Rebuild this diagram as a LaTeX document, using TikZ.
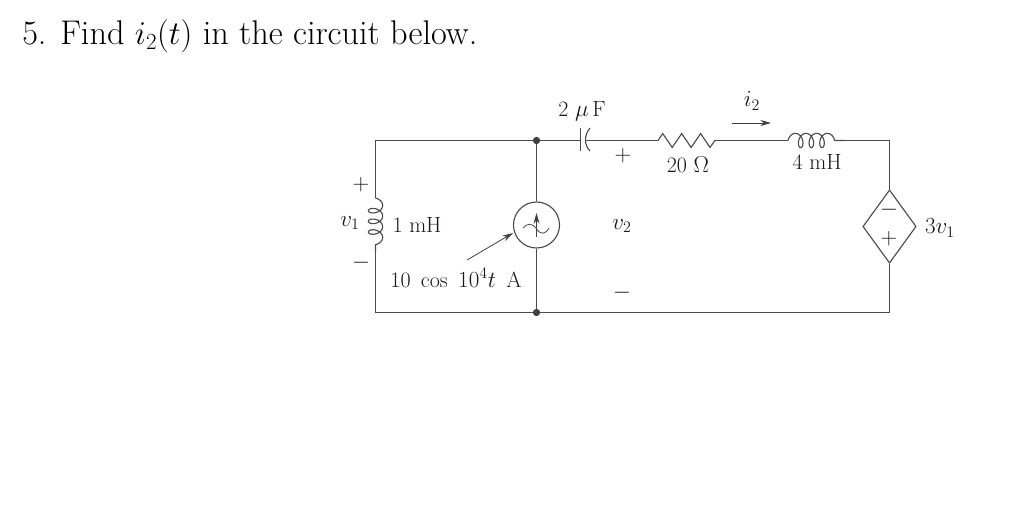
\documentclass[tikz,border=0pt]{standalone}
\usetikzlibrary{arrows.meta,decorations.pathmorphing,shapes.geometric}
\tikzset{
  wire/.style={draw=black!70,line width=0.85pt},
  lbl/.style={inner sep=0pt,text=black!90,font=\fontsize{16.5}{18}\selectfont},
  dot/.style={circle,fill=black!75,inner sep=0pt,minimum size=5.5pt},
  coilv/.style={wire,decorate,decoration={coil,aspect=0.65,amplitude=5.4pt,segment length=8pt}},
  zig/.style={wire,decorate,decoration={zigzag,amplitude=5.2pt,segment length=14.2pt}},
  arrowline/.style={draw=black!75,line width=0.6pt,-{Stealth[length=8pt,width=4.5pt]}}
}
\begin{document}
\begin{tikzpicture}[x=0.75pt,y=-0.75pt]
  \useasboundingbox (0,0) rectangle (1024,504);
  \node [inner sep=0pt,anchor=west,font=\fontsize{25.7}{30}\selectfont] (title) at (22,36)
    {5. Find $i_2(t)$ in the circuit below.};
  % corners and junctions
  \coordinate (tl) at (375.5,140.5);
  \coordinate (bl) at (375.5,312.5);
  \coordinate (tr) at (889.5,140.5);
  \coordinate (br) at (889.5,312.5);
  \node [dot] (jt) at (536.5,140.5) {};
  \node [dot] (jb) at (536.5,312.5) {};
  \coordinate (la) at (375.5,198);
  \coordinate (lb) at (375.5,252);
  \coordinate (ca) at (580.5,140.5);
  \coordinate (cb) at (586,140.5);
  \coordinate (ra) at (658,140.5);
  \coordinate (rb) at (716,140.5);
  \coordinate (ma) at (788,140.5);
  \coordinate (mb) at (844,140.5);
  \node [draw=black!70,line width=0.85pt,circle,minimum size=34.5pt,inner sep=0pt] (src) at (536.5,225) {};
  \node [draw=black!70,line width=0.85pt,diamond,minimum width=40pt,minimum height=55pt,inner sep=0pt] (dep) at (889.5,226.5) {};
  % wires
  \draw [wire] (lb) -- (bl) -- (jb) -- (br) -- (dep.south);
  \draw [wire] (la) -- (tl) -- (jt) -- (ca);
  \draw [wire] (jt) -- (src.north);
  \draw [wire] (src.south) -- (jb);
  \draw [wire] (cb) -- (ra);
  \draw [wire] (rb) -- (ma);
  \draw [wire] (mb) -- (tr) -- (dep.north);
  % elements
  \draw [coilv] (la) -- (lb);
  \draw [zig] (ra) -- (rb);
  \draw [coilv] (ma) -- (mb);
  \draw [wire] (580.5,128) -- (580.5,151);
  \draw [wire] (590,128) .. controls (584,135) and (584,145) .. (590,151);
  % source symbol
  \coordinate (srcup) at (536.5,213);
  \coordinate (srcdn) at (536.5,237);
  \draw [arrowline] (srcdn) -- (srcup);
  \draw [wire,line width=0.6pt] (523,228) .. controls (527,223) and (532,223) .. (536,228)
    .. controls (540,235) and (545,235) .. (549,228);
  % labels
  \node [lbl] (lcap) at (582,111) {2 $\mu$\,F};
  \node [lbl] (lres) at (688,165) {20 $\Omega$};
  \node [lbl] (lind) at (817,162) {4 mH};
  \node [lbl] (li) at (752,101) {$i_2$};
  \node [lbl] (lvone) at (350,223) {$v_1$};
  \node [lbl] (lone) at (417,225) {1 mH};
  \node [lbl] (lsrc) at (456,278) {10\ \,cos\ \,$10^4t$\ \,A};
  \node [lbl] (lvtwo) at (622,226) {$v_2$};
  \node [lbl] (lthree) at (940,228) {$3v_1$};
  \node [lbl] (pa) at (361,185) {$+$};
  \node [lbl] (ma1) at (361,263) {$-$};
  \node [lbl] (pb) at (623,156) {$+$};
  \node [lbl] (mb1) at (622,293) {$-$};
  \node [lbl] (mc) at (889,210) {$-$};
  \node [lbl] (pc) at (889,239) {$+$};
  % arrows
  \coordinate (ia) at (732,123);
  \coordinate (ib) at (771,123);
  \draw [arrowline] (ia) -- (ib);
  \coordinate (sa) at (467,260);
  \coordinate (sb) at (513,233);
  \draw [arrowline] (sa) -- (sb);
\end{tikzpicture}
\end{document}
